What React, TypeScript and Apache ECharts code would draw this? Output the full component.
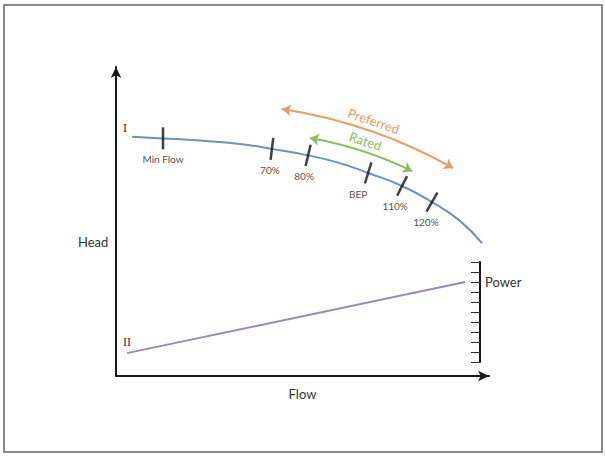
import React, { useEffect, useRef } from "react";
import * as echarts from "echarts";

// Head curve (I): flow vs head, in arbitrary axis units (0-100)
const headFlow = [4.3, 12.6, 22.5, 33.2, 41.8, 51.5, 60.0, 67.6, 76.7, 84.7, 92.2, 98.1];
const headValue = [77.4, 76.9, 76.2, 75.1, 73.5, 71.4, 68.9, 65.7, 61.5, 56.3, 50.2, 43.0];

// Power curve (II)
const powerFlow = [2.95, 93.6];
const powerValue = [7.4, 30.4];

// Marked points on the head curve
const markNames = ["Min Flow", "70%", "80%", "BEP", "110%", "120%"];
const markFlow = [12.6, 41.8, 51.5, 67.6, 76.7, 84.7];
const markHead = [76.9, 73.5, 71.4, 65.7, 61.5, 56.3];
const markTilt = [0, -7, -13, -17, -27, -30];
const markLabelShift = [0, -2, -4, -10, -7, -6];

// Operating ranges (double arrows)
const rangeNames = ["Preferred", "Rated"];
const rangeStart = [[44.5, 86.4], [52.0, 77.0]];
const rangeEnd = [[90.4, 67.3], [79.4, 66.3]];
const rangeColors = ["#eb9a62", "#8fbb62"];
const rangeCurve = [0.09, 0.07];

// Power scale ticks
const powerTicksMin = 0;
const powerTicksMax = 10;

const FONT = "Lato, 'Open Sans', sans-serif";

export default function App() {
  const ref = useRef<HTMLDivElement>(null);
  useEffect(() => {
    if (!ref.current) return;
    const chart = echarts.init(ref.current, undefined, { renderer: "svg" });
    const axisCommon = {
      type: "value" as const,
      min: 0,
      max: 100,
      axisTick: { show: false },
      axisLabel: { show: false },
      splitLine: { show: false },
    };
    chart.setOption({
      animation: false,
      backgroundColor: "#ffffff",
      grid: [
        { left: 116, top: 67, width: 373, height: 309 },
        { left: 480, top: 262, width: 10, height: 100 },
      ],
      xAxis: [
        {
          ...axisCommon,
          gridIndex: 0,
          axisLine: {
            show: true,
            onZero: false,
            symbol: ["none", "arrow"],
            symbolSize: [8, 11],
            lineStyle: { color: "#1a1a1a", width: 2 },
          },
          name: "Flow",
          nameLocation: "middle",
          nameGap: 11,
          nameTextStyle: { fontFamily: FONT, fontSize: 13, color: "#333" },
        },
        { ...axisCommon, gridIndex: 1, show: false },
      ],
      yAxis: [
        {
          ...axisCommon,
          gridIndex: 0,
          axisLine: {
            show: true,
            onZero: false,
            symbol: ["none", "arrow"],
            symbolSize: [8, 11],
            lineStyle: { color: "#1a1a1a", width: 2 },
          },
        },
        {
          type: "value",
          gridIndex: 1,
          min: powerTicksMin,
          max: powerTicksMax,
          interval: 1,
          position: "left",
          axisLine: { show: true, onZero: false, lineStyle: { color: "#1a1a1a", width: 2 } },
          axisTick: { show: true, length: 9, lineStyle: { color: "#333", width: 1 } },
          axisLabel: { show: false },
          splitLine: { show: false },
        },
      ],
      series: [
        {
          type: "line",
          xAxisIndex: 0,
          yAxisIndex: 0,
          data: headFlow.map((x, i) => [x, headValue[i]]),
          smooth: true,
          showSymbol: false,
          lineStyle: { color: "#7090c3", width: 2 },
          z: 2,
        },
        {
          type: "line",
          xAxisIndex: 0,
          yAxisIndex: 0,
          data: powerFlow.map((x, i) => [x, powerValue[i]]),
          showSymbol: false,
          lineStyle: { color: "#9a88be", width: 2 },
          z: 2,
        },
        {
          type: "scatter",
          xAxisIndex: 0,
          yAxisIndex: 0,
          symbol: "rect",
          symbolSize: [2.5, 22],
          itemStyle: { color: "#111" },
          z: 3,
          data: markNames.map((n, i) => ({
            name: n,
            value: [markFlow[i], markHead[i]],
            symbolRotate: markTilt[i],
            label: { offset: [markLabelShift[i], 0] },
          })),
          label: {
            show: true,
            position: "bottom",
            distance: 5,
            formatter: "{b}",
            fontFamily: FONT,
            fontSize: 10,
            color: "#222",
          },
        },
        {
          type: "lines",
          coordinateSystem: "cartesian2d",
          xAxisIndex: 0,
          yAxisIndex: 0,
          symbol: ["arrow", "arrow"],
          symbolSize: 9,
          z: 4,
          data: rangeNames.map((n, i) => ({
            name: n,
            coords: [rangeStart[i], rangeEnd[i]],
            lineStyle: { color: rangeColors[i], width: 2, curveness: rangeCurve[i], opacity: 1 },
            label: { color: rangeColors[i] },
          })),
          label: {
            show: true,
            position: "insideMiddleTop",
            formatter: "{b}",
            fontFamily: FONT,
            fontSize: 13,
            distance: 4,
          },
        },
      ],
      graphic: [
        {
          type: "rect",
          shape: { x: 4, y: 5, width: 598, height: 447 },
          style: { fill: "none", stroke: "#8a8a8a", lineWidth: 2 },
          silent: true,
        },
        {
          type: "text",
          x: 78,
          y: 242,
          style: { text: "Head", fontFamily: FONT, fontSize: 13, fill: "#333", verticalAlign: "middle" },
        },
        {
          type: "text",
          x: 125,
          y: 128,
          style: { text: "I", fontFamily: "'Liberation Serif', serif", fontSize: 12, fill: "#333333", align: "center", verticalAlign: "middle" },
        },
        {
          type: "text",
          x: 127,
          y: 342,
          style: { text: "II", fontFamily: "'Liberation Serif', serif", fontSize: 12, fill: "#333333", align: "center", verticalAlign: "middle" },
        },
        {
          type: "text",
          x: 485,
          y: 282,
          style: { text: "Power", fontFamily: FONT, fontSize: 13, fill: "#333", verticalAlign: "middle" },
        },
      ],
    });
    return () => chart.dispose();
  }, []);
  return (
    <div
      ref={ref}
      style={{ position: "absolute", left: 0, top: 0, width: 605, height: 457 }}
    />
  );
}
